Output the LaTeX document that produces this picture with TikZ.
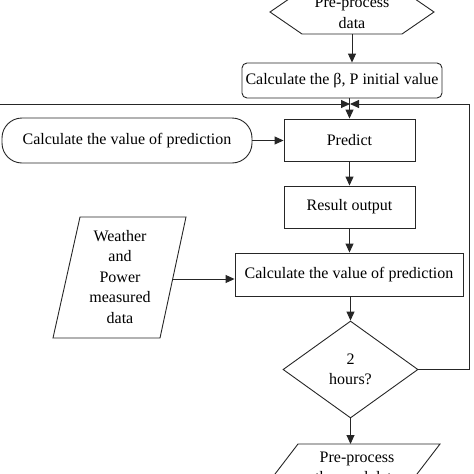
\documentclass[tikz,border=0pt]{standalone}
\usepackage{fontspec}
\setmainfont{Liberation Serif}
\usetikzlibrary{arrows.meta,shapes.geometric}
\tikzset{
  ln/.style={draw=black!85, line width=0.9pt},
  arr/.style={ln, -{Triangle[length=9pt,width=8pt]}},
  boxnode/.style={ln, rectangle, inner sep=0pt, align=center},
  txt/.style={inner sep=0pt, align=center},
}
\begin{document}
\begin{tikzpicture}[x=1pt,y=-1pt, font=\fontsize{16}{20.5}\selectfont]
\useasboundingbox (0,0) rectangle (474,474);
\clip (0,0) rectangle (474,474);
% top hexagon
\draw[ln] (270,12) -- (302,-10) -- (402,-10) -- (434,12) -- (402,34) -- (302,34) -- cycle;
\node[txt] (hex) at (352,12.75) {Pre-process\\data};
\coordinate (hexb) at (352,34);
% init box
\node[boxnode, rounded corners=5pt, minimum width=200pt, minimum height=35pt] (init) at (342,80.5) {Calculate the β, P initial value};
% predict
\node[boxnode, minimum width=131pt, minimum height=42pt] (predict) at (349.5,140) {Predict};
\node[boxnode, minimum width=131pt, minimum height=42pt] (result) at (349.5,207) {Result output};
\node[boxnode, minimum width=228pt, minimum height=43pt] (calc) at (349,274.5) {Calculate the value of prediction};
\node[ln, diamond, inner sep=0pt, minimum width=135pt, minimum height=97pt, align=center] (dia) at (350.5,369.5) {2\\hours?};
% oval
\node[boxnode, rounded corners=20pt, minimum width=250pt, minimum height=45pt] (oval) at (127,140.5) {Calculate the value of prediction};
% weather parallelogram
\draw[ln] (80,217) -- (186,217) -- (160,338) -- (53,338) -- cycle;
\node[txt] (wx) at (120,277) {Weather\\and\\Power\\measured\\data};
\coordinate (wr) at (173,279);
% bottom parallelogram
\draw[ln] (298,444) -- (440,444) -- (401.7,494) -- (259.7,494) -- cycle;
\node[txt] (pp) at (357,467.5) {Pre-process\\the used data};
\coordinate (pb) at (350.5,444);
% junction / loops
\coordinate (jn) at (350,104);
\coordinate (lft) at (0,104);
\coordinate (rgt) at (469,104);
% connectors
\draw[arr] (hexb) -- (hexb |- init.north);
\draw[arr] (predict.north |- init.south) -- (predict.north);
\draw[arr] (lft) -- (jn);
\draw[arr] (dia.east) -- (dia.east -| rgt) -- (rgt) -- (jn);
\draw[arr] (oval.east) -- (oval.east -| predict.west);
\draw[arr] (predict.south) -- (result.north);
\draw[arr] (result.south) -- (result.south |- calc.north);
\draw[arr] (wr) -- (wr -| calc.west);
\draw[arr] (calc.south -| dia.north) -- (dia.north);
\draw[arr] (dia.south) -- (pb);
\end{tikzpicture}
\end{document}
